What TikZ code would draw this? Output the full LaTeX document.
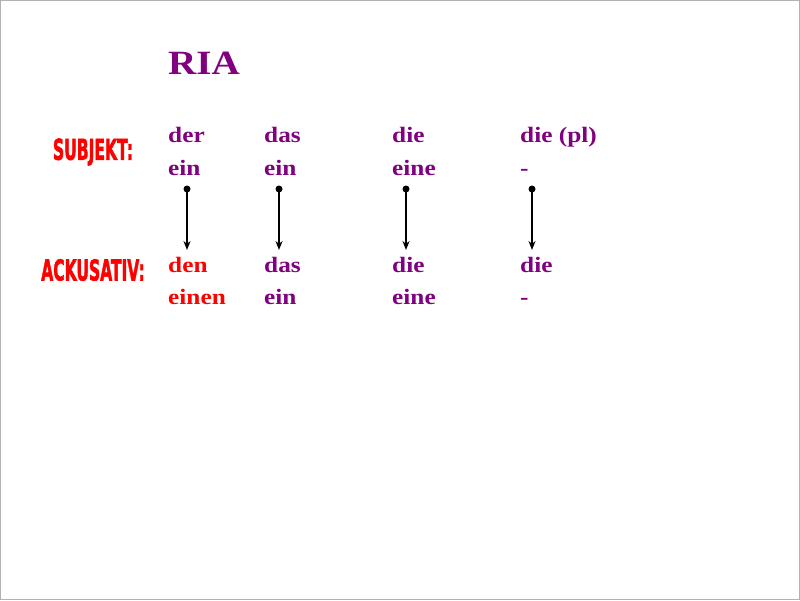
\documentclass[tikz,border=0pt]{standalone}
\usepackage{fontspec}
\setmainfont{Liberation Serif}[FakeStretch=1.15]
\newfontfamily\labfont{DejaVu Sans Condensed}[FakeBold=2]
\usetikzlibrary{arrows.meta}
\definecolor{pur}{RGB}{128,0,128}
\begin{document}
\begin{tikzpicture}[x=1pt,y=-1pt,
  w/.style={anchor=base west,inner sep=0,font=\fontsize{22}{22}\selectfont\bfseries,text=pur},
  r/.style={w,text=red},
  lab/.style={inner sep=0,text=red,font=\fontsize{24}{24}\labfont\bfseries},
  arr/.style={-{Stealth[length=9pt,width=7pt]},line width=1.6pt,shorten <=-2pt}]
\draw[gray!60] (0.5,0.5) rectangle (799.5,599.5);
\useasboundingbox (0,0) rectangle (800,600);
\node[w,font=\fontsize{34}{34}\selectfont\bfseries] (t) at (168,74) {RIA};
\node[lab] (s) at (93,152) {\scalebox{0.72}[1.2]{SUBJEKT:}};
\node[lab] (a) at (93,270) {\scalebox{0.72}[1.2]{ACKUSATIV:}};
\foreach \n/\x/\a/\b/\c/\d/\st in {1/168/der/ein/den/einen/r, 2/264/das/ein/das/ein/w, 3/392/die/eine/die/eine/w, 4/520/die (pl)/-/die/-/w}{
  \node[w] (a\n) at (\x,142) {\a};
  \node[w] (b\n) at (\x,175) {\b};
  \node[\st] (c\n) at (\x,272) {\c};
  \node[\st] (d\n) at (\x,304) {\d};
}
\foreach \n/\x in {1/187,2/279,3/406,4/532}{
  \coordinate (p\n) at (\x,189);
  \coordinate (q\n) at (\x,250);
  \fill (p\n) circle (3.5pt);
  \draw[arr] (p\n) -- (q\n);
}
\end{tikzpicture}
\end{document}
